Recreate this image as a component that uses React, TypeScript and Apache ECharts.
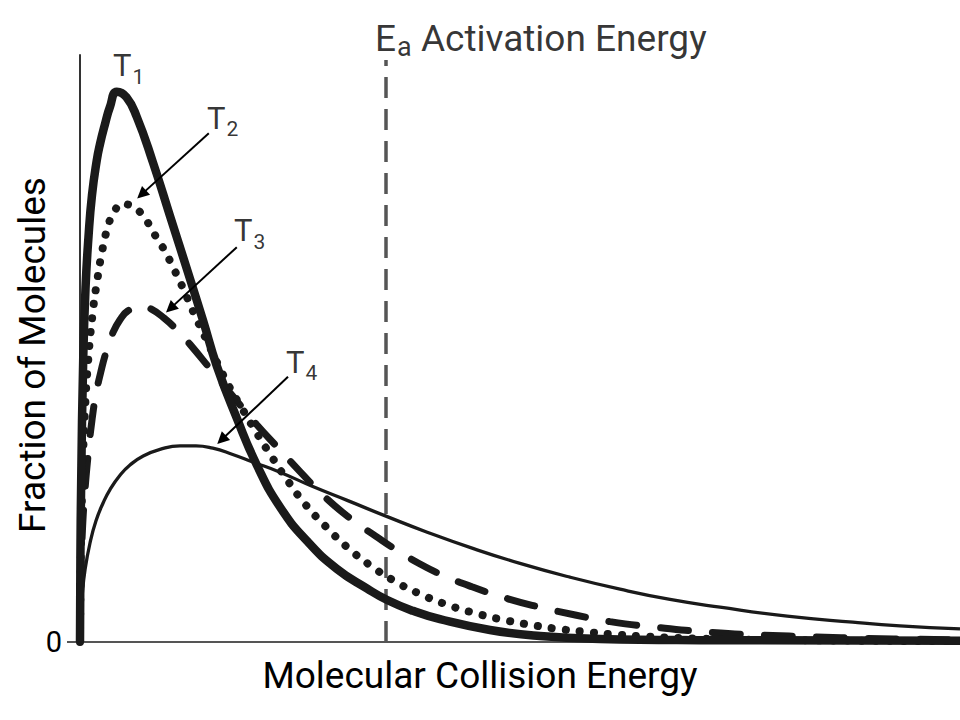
import React, { useEffect, useRef } from 'react';
import * as echarts from 'echarts';

// Axis ranges (arbitrary energy / fraction units)
const X_MAX = 110;
const Y_MAX = 97.83;
const EA = 38.25; // activation energy

// T1 – lowest temperature (tallest, narrowest peak)
const T1_E = [0, 0.05, 0.15, 0.4, 0.69, 1.06, 1.5, 2.1, 2.5, 3.1, 3.75, 4.6, 5.8, 7.1, 9.1, 11.25, 13.4, 15.4, 17.1, 19.6, 22.1, 25, 28.4, 32.1, 35.9, 38.4, 41.6, 45, 51.25, 57.5, 65, 77.5, 110];
const T1_F = [0, 14, 27, 47, 59, 67.5, 74.5, 80.3, 83, 86.2, 89.2, 91.7, 90.8, 87.5, 80, 71, 62, 53.5, 46, 37.3, 29.5, 22.5, 16.8, 12.2, 8.9, 7, 5.2, 3.8, 2, 1, 0.5, 0.3, 0.2];

// T2 – dotted
const T2_E = [0, 0.1, 0.3, 0.6, 1, 1.6, 2.2, 2.75, 3.4, 4.2, 5.3, 6.25, 7.75, 8.75, 9.6, 10.6, 11.5, 12.9, 14.1, 16, 18.4, 20.4, 22.1, 24, 26, 28.25, 30.75, 33.4, 36.25, 39.25, 42.5, 45.9, 49.4, 52.9, 56.6, 60.25, 63.9, 67.4, 71, 77.5, 90, 110];
const T2_F = [0, 14, 27, 38, 46.5, 55, 60.7, 65, 68.8, 71.5, 73, 72.8, 71.3, 69.3, 67.3, 65.2, 62.8, 58.9, 55.2, 49.8, 43.2, 38.6, 34.8, 30.8, 26.8, 22.8, 19.2, 15.8, 12.8, 10.2, 8, 6.2, 4.8, 3.7, 2.8, 2.1, 1.6, 1.2, 0.9, 0.55, 0.3, 0.15];

// T3 – dashed
const T3_E = [0, 0.06, 0.15, 0.3, 0.55, 1, 1.5, 2, 2.6, 3.3, 4.1, 5, 6, 7.6, 8.75, 10.5, 12.25, 13.75, 16.6, 19.4, 22.1, 25, 27.5, 30.9, 34.1, 37, 39.6, 42.5, 45.4, 49, 53.5, 57.5, 61.9, 66.25, 72.5, 79, 85.4, 91.9, 98.4, 105, 110];
const T3_F = [0, 8, 13, 18.5, 24, 31, 37, 41.3, 45, 48.5, 51.5, 53.7, 55.2, 56, 55.6, 54, 51.8, 49.6, 45, 40.5, 36.2, 32, 28.4, 23.8, 20.3, 17.6, 15.3, 13, 11.1, 9.2, 7.2, 5.8, 4.5, 3.4, 2.4, 1.6, 1.15, 0.85, 0.6, 0.45, 0.35];

// T4 – highest temperature (thin solid, flattest)
const T4_E = [0, 0.125, 0.25, 0.625, 1.25, 2, 2.9, 3.75, 5, 6.25, 7.9, 10, 12.5, 14.5, 16.6, 19, 21.6, 25, 29.1, 33.4, 38.4, 43.4, 49.1, 55, 61.25, 67.5, 73.75, 80, 88.4, 96.6, 102.5, 110];
const T4_F = [0, 5, 7.5, 12, 16.5, 20.2, 23.2, 25.4, 27.8, 29.5, 31, 32.1, 32.7, 32.7, 32.3, 31.3, 30, 28.3, 25.9, 23.6, 20.9, 18.3, 15.6, 13.1, 10.8, 8.8, 7.1, 5.8, 4.3, 3.3, 2.7, 2.2];

// Curve labels (T with subscript) and their anchor positions
const LABEL_SUBS = ['1', '2', '3', '4'];
const LABEL_E = [4.125, 15.875, 19.25, 25.75];
const LABEL_F = [96, 87.3, 68.5, 46.6];

// Arrows from label to curve
const ARROW_TAIL_E = [16.1, 19.6, 26];
const ARROW_TAIL_F = [84.8, 65.8, 44.2];
const ARROW_TIP_E = [7.7, 11.3, 17.7];
const ARROW_TIP_F = [74.6, 55.6, 33.7];

const EA_LINE_TOP = 97;
const EA_LABEL_E = 36.875;
const EA_LABEL_F = 100.6;

const X_TITLE = 'Molecular Collision Energy';
const Y_TITLE = 'Fraction of Molecules';

const FONT = 'Roboto';
const INK = '#1a1a1a';
const TEXT = '#000';

const zip = (a: number[], b: number[]) => a.map((v, i) => [v, b[i]]);

export default function App() {
  const ref = useRef<HTMLDivElement>(null);
  useEffect(() => {
    if (!ref.current) return;
    const chart = echarts.init(ref.current, null, { renderer: 'svg' });

    const curveBase = {
      type: 'line',
      symbol: 'none',
      showSymbol: false,
      silent: true,
      smooth: 0.5,
      emphasis: { disabled: true },
      z: 3,
    };

    const arrowData = ARROW_TAIL_E.map((_, i) => [
      { coord: [ARROW_TAIL_E[i], ARROW_TAIL_F[i]] },
      { coord: [ARROW_TIP_E[i], ARROW_TIP_F[i]] },
    ]);

    const tLabelRich = {
      t: { fontSize: 31, lineHeight: 31, verticalAlign: 'top', fontFamily: FONT, color: TEXT },
      s: { fontSize: 21, lineHeight: 21, verticalAlign: 'top', padding: [16, 0, 0, 1], fontFamily: FONT, color: TEXT },
    };

    const labelData: any[] = LABEL_SUBS.map((s, i) => ({
      value: [LABEL_E[i], LABEL_F[i]],
      label: { formatter: '{t|T}{s|' + s + '}', rich: tLabelRich },
    }));
    labelData.push({
      value: [EA_LABEL_E, EA_LABEL_F],
      label: {
        formatter: '{e|E}{a|a}{m| Activation Energy}',
        rich: {
          e: { fontSize: 37, lineHeight: 37, verticalAlign: 'top', fontFamily: FONT, color: TEXT },
          a: { fontSize: 27, lineHeight: 27, verticalAlign: 'top', padding: [14, 0, 0, 1], fontFamily: FONT, color: TEXT },
          m: { fontSize: 37, lineHeight: 37, verticalAlign: 'top', fontFamily: FONT, color: TEXT },
        },
      },
    });

    chart.setOption({
      animation: false,
      backgroundColor: '#ffffff',
      grid: { left: 80, right: 0, top: 55, bottom: 78, containLabel: false },
      xAxis: {
        type: 'value',
        min: 0,
        max: X_MAX,
        axisLine: { show: true, lineStyle: { color: '#555', width: 2 } },
        axisTick: { show: false },
        axisLabel: { show: false },
        splitLine: { show: false },
      },
      yAxis: {
        type: 'value',
        min: 0,
        max: Y_MAX,
        axisLine: { show: true, lineStyle: { color: '#333', width: 2 } },
        axisTick: { show: true, customValues: [0], length: 13, lineStyle: { color: '#555', width: 2 } },
        axisLabel: { show: true, customValues: [0], formatter: (v: number) => (v === 0 ? '0' : ''), fontSize: 29, fontFamily: FONT, color: TEXT, margin: 18 },
        splitLine: { show: false },
      },
      graphic: [
        {
          type: 'text',
          x: 480,
          y: 675,
          style: { text: X_TITLE, fontSize: 37, fontFamily: FONT, fill: TEXT, align: 'center', verticalAlign: 'middle' },
        },
        {
          type: 'text',
          x: 32,
          y: 355,
          rotation: Math.PI / 2,
          style: { text: Y_TITLE, fontSize: 37, fontFamily: FONT, fill: TEXT, align: 'center', verticalAlign: 'middle' },
        },
      ],
      series: [
        {
          ...curveBase,
          name: 'T4',
          data: zip(T4_E, T4_F),
          lineStyle: { color: INK, width: 3.3 },
        },
        {
          ...curveBase,
          name: 'T3',
          data: zip(T3_E, T3_F),
          lineStyle: { color: INK, width: 7, type: [28, 24], cap: 'round' },
        },
        {
          ...curveBase,
          name: 'T2',
          data: zip(T2_E, T2_F),
          lineStyle: { color: INK, width: 8, type: [0.1, 14], cap: 'round' },
        },
        {
          ...curveBase,
          name: 'T1',
          data: zip(T1_E, T1_F),
          lineStyle: { color: INK, width: 8.5 },
        },
        {
          type: 'line',
          name: 'Ea',
          symbol: 'none',
          silent: true,
          emphasis: { disabled: true },
          data: [[EA, 0], [EA, EA_LINE_TOP]],
          lineStyle: { color: '#555', width: 3.5, type: [21, 11] },
          z: 2,
          markLine: {
            silent: true,
            symbol: ['none', 'triangle'],
            symbolSize: 12,
            label: { show: false },
            emphasis: { disabled: true },
            lineStyle: { color: '#000', width: 2, type: 'solid' },
            data: arrowData,
          },
        },
        {
          type: 'scatter',
          name: 'labels',
          silent: true,
          clip: false,
          symbolSize: 0,
          itemStyle: { color: 'transparent' },
          emphasis: { disabled: true },
          label: { show: true, position: 'right', distance: 0, color: TEXT, textBorderWidth: 0 },
          data: labelData,
          z: 5,
        },
      ],
    });

    return () => chart.dispose();
  }, []);

  return (
    <div
      ref={ref}
      style={{ position: 'fixed', left: 0, top: 0, width: 960, height: 720, background: '#fff' }}
    />
  );
}
